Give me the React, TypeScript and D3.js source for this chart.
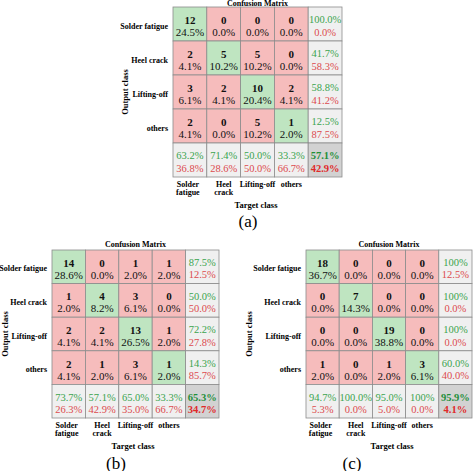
import React from 'react';
import * as d3 from 'd3';

const classes = ['Solder fatigue', 'Heel crack', 'Lifting-off', 'others'];
const colLabelLines = [['Solder', 'fatigue'], ['Heel', 'crack'], ['Lifting-off'], ['others']];
const titleText = 'Confusion Matrix';
const xTitle = 'Target class';
const yTitle = 'Output class';

// (a)
const countsA = [[12, 0, 0, 0], [2, 5, 5, 0], [3, 2, 10, 2], [2, 0, 5, 1]];
const pctA = [
  ['24.5%', '0.0%', '0.0%', '0.0%'],
  ['4.1%', '10.2%', '10.2%', '0.0%'],
  ['6.1%', '4.1%', '20.4%', '4.1%'],
  ['4.1%', '0.0%', '10.2%', '2.0%'],
];
const rowAccA = [['100.0%', '0.0%'], ['41.7%', '58.3%'], ['58.8%', '41.2%'], ['12.5%', '87.5%']];
const colAccA = [['63.2%', '36.8%'], ['71.4%', '28.6%'], ['50.0%', '50.0%'], ['33.3%', '66.7%']];
const overallA = ['57.1%', '42.9%'];

// (b)
const countsB = [[14, 0, 1, 1], [1, 4, 3, 0], [2, 2, 13, 1], [2, 1, 3, 1]];
const pctB = [
  ['28.6%', '0.0%', '2.0%', '2.0%'],
  ['2.0%', '8.2%', '6.1%', '0.0%'],
  ['4.1%', '4.1%', '26.5%', '2.0%'],
  ['4.1%', '2.0%', '6.1%', '2.0%'],
];
const rowAccB = [['87.5%', '12.5%'], ['50.0%', '50.0%'], ['72.2%', '27.8%'], ['14.3%', '85.7%']];
const colAccB = [['73.7%', '26.3%'], ['57.1%', '42.9%'], ['65.0%', '35.0%'], ['33.3%', '66.7%']];
const overallB = ['65.3%', '34.7%'];

// (c)
const countsC = [[18, 0, 0, 0], [0, 7, 0, 0], [0, 0, 19, 0], [1, 0, 1, 3]];
const pctC = [
  ['36.7%', '0.0%', '0.0%', '0.0%'],
  ['0.0%', '14.3%', '0.0%', '0.0%'],
  ['0.0%', '0.0%', '38.8%', '0.0%'],
  ['2.0%', '0.0%', '2.0%', '6.1%'],
];
const rowAccC = [['100%', '12.5%'], ['100%', '0.0%'], ['100%', '0.0%'], ['60.0%', '40.0%']];
const colAccC = [['94.7%', '5.3%'], ['100.0%', '0.0%'], ['95.0%', '5.0%'], ['100%', '0.0%']];
const overallC = ['95.9%', '4.1%'];

const FONT = '"Liberation Serif", "Times New Roman", serif';
const GREEN_BG = '#bfe5c1';
const RED_BG = '#f6bcbc';
const GRAY_BG = '#f0f0f0';
const CORNER_BG = '#d2d2d2';
const GREEN_TX = '#3aa44e';
const RED_TX = '#dc4a4e';
const LINE = '#8c8c8c';

type MP = {
  counts: number[][];
  pct: string[][];
  rowAcc: string[][];
  colAcc: string[][];
  overall: string[];
  x0: number; x1: number; y0: number; y1: number;
  yTitleX: number;
  panel: string; panelX: number; panelY: number;
  targetX: number;
};

function Matrix(p: MP) {
  const idx = d3.range(5);
  const x = d3.scaleBand<number>().domain(idx).range([p.x0, p.x1]);
  const y = d3.scaleBand<number>().domain(idx).range([p.y0, p.y1]);
  const bw = x.bandwidth();
  const bh = y.bandwidth();
  const cells: React.ReactNode[] = [];
  idx.forEach((r) => {
    idx.forEach((c) => {
      let fill = GRAY_BG;
      if (r < 4 && c < 4) fill = r === c ? GREEN_BG : RED_BG;
      if (r === 4 && c === 4) fill = CORNER_BG;
      cells.push(
        <rect key={`r${r}-${c}`} x={x(c)} y={y(r)} width={bw} height={bh} fill={fill} stroke={LINE} strokeWidth={0.8} />
      );
      const cx = (x(c) as number) + bw / 2;
      const ty = (y(r) as number) + bh * 0.38;
      const by = (y(r) as number) + bh * 0.74;
      if (r < 4 && c < 4) {
        cells.push(
          <text key={`c${r}-${c}`} x={cx} y={ty} textAnchor="middle" dominantBaseline="central" fontWeight="bold" fontSize={11} fill="#111">{p.counts[r][c]}</text>,
          <text key={`p${r}-${c}`} x={cx} y={by} textAnchor="middle" dominantBaseline="central" fontSize={11} fill="#111">{p.pct[r][c]}</text>
        );
      } else {
        const pair = r < 4 ? p.rowAcc[r] : c < 4 ? p.colAcc[c] : p.overall;
        const bold = r === 4 && c === 4;
        cells.push(
          <text key={`g${r}-${c}`} x={cx} y={ty} textAnchor="middle" dominantBaseline="central" fontSize={10.5} fontWeight={bold ? 'bold' : 'normal'} fill={bold ? '#1f8f3a' : GREEN_TX}>{pair[0]}</text>,
          <text key={`e${r}-${c}`} x={cx} y={by} textAnchor="middle" dominantBaseline="central" fontSize={10.5} fontWeight={bold ? 'bold' : 'normal'} fill={bold ? '#e02828' : RED_TX}>{pair[1]}</text>
        );
      }
    });
  });
  const gridCx = (p.x0 + p.x1) / 2;
  return (
    <g fontFamily={FONT}>
      <text x={gridCx} y={Math.max(p.y0 - 3, 6.2)} textAnchor="middle" fontWeight="bold" fontSize={8}>{titleText}</text>
      {cells}
      {classes.map((name, i) => (
        <text key={`rl${i}`} x={p.x0 - 5} y={(y(i) as number) + bh / 2 + 2} textAnchor="end" dominantBaseline="central" fontWeight="bold" fontSize={8}>{name}</text>
      ))}
      {colLabelLines.map((lines, i) => (
        <text key={`cl${i}`} textAnchor="middle" fontWeight="bold" fontSize={8}>
          {lines.map((ln, k) => (
            <tspan key={k} x={(x(i) as number) + bw / 2 - (i === 0 ? 2 : 0)} y={p.y1 + 7 + k * 8} dominantBaseline="central">{ln}</tspan>
          ))}
        </text>
      ))}
      <text x={p.targetX} y={p.y1 + 28} textAnchor="middle" dominantBaseline="central" fontWeight="bold" fontSize={8.5}>{xTitle}</text>
      <text transform={`translate(${p.yTitleX},${(p.y0 + p.y1) / 2}) rotate(-90)`} textAnchor="middle" dominantBaseline="central" fontWeight="bold" fontSize={8.5}>{yTitle}</text>
      <text x={p.panelX} y={p.panelY} textAnchor="middle" dominantBaseline="central" fontSize={17}>{p.panel}</text>
    </g>
  );
}

export default function App() {
  return (
    <svg width={474} height={471} style={{ position: 'absolute', left: 0, top: 0, background: '#fff' }}>
      <rect x={0} y={0} width={474} height={471} fill="#fff" />
      <Matrix counts={countsA} pct={pctA} rowAcc={rowAccA} colAcc={colAccA} overall={overallA}
        x0={173} x1={342} y0={7} y1={177} yTitleX={125} panel="(a)" panelX={248} panelY={221} targetX={256} />
      <Matrix counts={countsB} pct={pctB} rowAcc={rowAccB} colAcc={colAccB} overall={overallB}
        x0={52} x1={219} y0={250} y1={418} yTitleX={5} panel="(b)" panelX={116} panelY={463} targetX={133} />
      <Matrix counts={countsC} pct={pctC} rowAcc={rowAccC} colAcc={colAccC} overall={overallC}
        x0={306} x1={472} y0={250} y1={418} yTitleX={249} panel="(c)" panelX={352} panelY={463} targetX={392} />
    </svg>
  );
}
